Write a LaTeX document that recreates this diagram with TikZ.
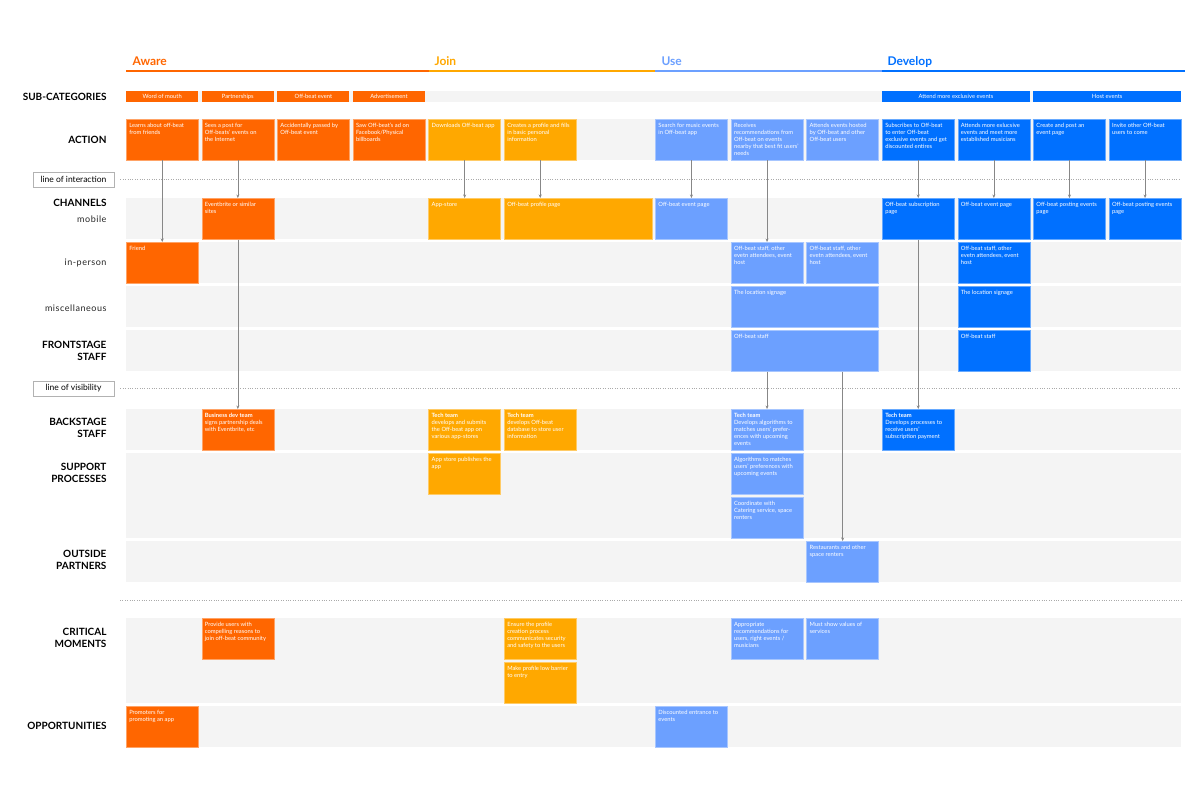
\documentclass[tikz,border=0pt]{standalone}
\usepackage{fontspec}
\setmainfont{Lato}
\usetikzlibrary{arrows.meta,calc}
\definecolor{aware}{RGB}{255,102,0}
\definecolor{joinc}{RGB}{255,168,0}
\definecolor{usec}{RGB}{108,160,255}
\definecolor{devc}{RGB}{0,112,255}
\definecolor{bandc}{RGB}{244,244,244}
\definecolor{arrc}{RGB}{135,135,135}
\definecolor{dotc}{RGB}{170,170,170}
\newcommand\cardfont{\fontsize{5.8}{7}\selectfont}
\newcommand\ctext[1]{\begin{tabular}[t]{@{}l@{}}#1\end{tabular}}
\newcommand\mkcard[7]{%
  \node[card,fill=#6,draw=#6!60!white,anchor=north west] (#1) at ({126+(#2-1)*75.6},#3)
    {\parbox[c][#5pt][t]{\dimexpr75.6pt*#4-9.6pt\relax}{\cardfont\vspace*{3.2pt}\ctext{#7}}};}
\newcommand\mksub[5]{%
  \node[subc,fill=#4,anchor=north west,minimum width={75.6*#3-3.6}] (#1) at ({126+(#2-1)*75.6},91) {#5};}
\tikzset{
  card/.style={rectangle,inner xsep=3pt,inner ysep=0pt,line width=0.5pt,text=white},
  subc/.style={rectangle,inner sep=0pt,minimum height=11pt,font=\cardfont,text=white},
  lbl/.style={anchor=east,align=right,font=\bfseries\fontsize{10}{12}\selectfont,text=black},
  sublbl/.style={anchor=east,font=\fontsize{9}{11}\selectfont\addfontfeature{LetterSpace=6},text=black!85},
  phase/.style={anchor=base west,font=\bfseries\fontsize{12}{14}\selectfont},
  linebox/.style={rectangle,draw=black!30,line width=0.8pt,fill=white,minimum width=81pt,minimum height=15pt,inner sep=0pt,font=\fontsize{8.5}{10}\selectfont},
  dotline/.style={dotc,line width=0.8pt,dash pattern=on 0.8pt off 1.6pt},
  flow/.style={arrc,line width=0.7pt,-{Stealth[length=3.5pt,width=3pt]}},
}
\begin{document}
\begin{tikzpicture}[x=1pt,y=-1pt]
\useasboundingbox (0,0) rectangle (1200,797);
\fill[white] (0,0) rectangle (1200,797);
% bands
\foreach \ya/\yb in {91/102,119/160,198/239,242/283,286/327,330/371,409/450,453/538,541/582,618/703,706/747}
  \fill[bandc] (126,\ya) rectangle (1181,\yb);
% phases
\draw[aware,line width=2.5pt] (126,71) -- (429,71);
\draw[joinc,line width=2.5pt] (429,71) -- (655.2,71);
\draw[usec,line width=2.5pt] (655.2,71) -- (882,71);
\draw[devc,line width=2.5pt] (882,71) -- (1185,71);
\node[phase,text=aware] (phAware) at (129,66) {Aware};
\node[phase,text=joinc] (phJoin) at (431,66) {Join};
\node[phase,text=usec] (phUse) at (658,66) {Use};
\node[phase,text=devc] (phDev) at (884,66) {Develop};
% row labels
\node[lbl] (lSub) at (110,96.5) {SUB-CATEGORIES};
\node[lbl] (lAct) at (110,140) {ACTION};
\node[lbl] (lCh) at (110,203) {CHANNELS};
\node[sublbl] (lMob) at (110,219) {mobile};
\node[sublbl] (lIn) at (110,263) {in-person};
\node[sublbl] (lMisc) at (110,308) {miscellaneous};
\node[lbl] (lFront) at (110,351) {FRONTSTAGE\\STAFF};
\node[lbl] (lBack) at (110,428) {BACKSTAGE\\STAFF};
\node[lbl] (lSupp) at (110,473) {SUPPORT\\PROCESSES};
\node[lbl] (lOut) at (110,560) {OUTSIDE\\PARTNERS};
\node[lbl] (lCrit) at (110,638) {CRITICAL\\MOMENTS};
\node[lbl] (lOpp) at (110,726) {OPPORTUNITIES};
% lines
\node[linebox] (loi) at (73.5,179.5) {line of interaction};
\node[linebox] (lov) at (73.5,388.5) {line of visibility};
\coordinate (loiEnd) at (1181,179.5);
\coordinate (lovEnd) at (1181,388.5);
\coordinate (sepA) at (120,600);
\coordinate (sepB) at (1181,600);
\draw[dotline] ([xshift=6pt]loi.east) -- (loiEnd);
\draw[dotline] ([xshift=6pt]lov.east) -- (lovEnd);
\draw[dotline] (sepA) -- (sepB);
% sub-categories
\mksub{s1}{1}{1}{aware}{Word of mouth}
\mksub{s2}{2}{1}{aware}{Partnerships}
\mksub{s3}{3}{1}{aware}{Off-beat event}
\mksub{s4}{4}{1}{aware}{Advertisement}
\mksub{s11}{11}{2}{devc}{Attend more exclusive events}
\mksub{s13}{13}{2}{devc}{Host events}
% action
\mkcard{a1}{1}{119}{1}{41}{aware}{Learns about off-beat\\from friends}
\mkcard{a2}{2}{119}{1}{41}{aware}{Sees a post for\\Off-beats' events on\\the Internet}
\mkcard{a3}{3}{119}{1}{41}{aware}{Accidentally passed by\\Off-beat event}
\mkcard{a4}{4}{119}{1}{41}{aware}{Saw Off-beat's ad on\\Facebook/Physical\\billboards}
\mkcard{a5}{5}{119}{1}{41}{joinc}{Downloads Off-beat app}
\mkcard{a6}{6}{119}{1}{41}{joinc}{Creates a profile and fills\\in basic personal\\information}
\mkcard{a8}{8}{119}{1}{41}{usec}{Search for music events\\in Off-beat app}
\mkcard{a9}{9}{119}{1}{41}{usec}{Receives\\recommendations from\\Off-beat on events\\nearby that best fit users'\\needs}
\mkcard{a10}{10}{119}{1}{41}{usec}{Attends events hosted\\by Off-beat and other\\Off-beat users}
\mkcard{a11}{11}{119}{1}{41}{devc}{Subscribes to Off-beat\\to enter Off-beat\\exclusive events and get\\discounted entires}
\mkcard{a12}{12}{119}{1}{41}{devc}{Attends more exlucsive\\events and meet more\\established musicians}
\mkcard{a13}{13}{119}{1}{41}{devc}{Create and post an\\event page}
\mkcard{a14}{14}{119}{1}{41}{devc}{Invite other Off-beat\\users to come}
% channels mobile
\mkcard{eb}{2}{198}{1}{41}{aware}{Eventbrite or similar\\sites}
\mkcard{apps}{5}{198}{1}{41}{joinc}{App-store}
\mkcard{prof}{6}{198}{2}{41}{joinc}{Off-beat profile page}
\mkcard{ep8}{8}{198}{1}{41}{usec}{Off-beat event page}
\mkcard{sub11}{11}{198}{1}{41}{devc}{Off-beat subscription\\page}
\mkcard{ep12}{12}{198}{1}{41}{devc}{Off-beat event page}
\mkcard{post13}{13}{198}{1}{41}{devc}{Off-beat posting events\\page}
\mkcard{post14}{14}{198}{1}{41}{devc}{Off-beat posting events\\page}
% in-person
\mkcard{friend}{1}{242}{1}{41}{aware}{Friend}
\mkcard{ip9}{9}{242}{1}{41}{usec}{Off-beat staff, other\\evetn attendees, event\\host}
\mkcard{ip10}{10}{242}{1}{41}{usec}{Off-beat staff, other\\evetn attendees, event\\host}
\mkcard{ip12}{12}{242}{1}{41}{devc}{Off-beat staff, other\\evetn attendees, event\\host}
% misc
\mkcard{sig9}{9}{286}{2}{41}{usec}{The location signage}
\mkcard{sig12}{12}{286}{1}{41}{devc}{The location signage}
% frontstage
\mkcard{fs9}{9}{330}{2}{41}{usec}{Off-beat staff}
\mkcard{fs12}{12}{330}{1}{41}{devc}{Off-beat staff}
% backstage
\mkcard{bdev}{2}{409}{1}{41}{aware}{\textbf{Business dev team}\\signs partnership deals\\with Eventbrite, etc}
\mkcard{tech5}{5}{409}{1}{41}{joinc}{\textbf{Tech team}\\develops and submits\\the Off-beat app on\\various app-stores}
\mkcard{tech6}{6}{409}{1}{41}{joinc}{\textbf{Tech team}\\develops Off-beat\\database to store user\\information}
\mkcard{tech9}{9}{409}{1}{41}{usec}{\textbf{Tech team}\\Develops algorithms to\\matches users' prefer-\\ences with upcoming\\events}
\mkcard{tech11}{11}{409}{1}{41}{devc}{\textbf{Tech team}\\Develops processes to\\receive users'\\subscription payment}
% support
\mkcard{sup5}{5}{453}{1}{41}{joinc}{App store publishes the\\app}
\mkcard{sup9a}{9}{453}{1}{41}{usec}{Algorithms to matches\\users' preferences with\\upcoming events}
\mkcard{sup9b}{9}{497}{1}{41}{usec}{Coordinate with\\Catering service, space\\renters}
% outside
\mkcard{rest}{10}{541}{1}{41}{usec}{Restaurants and other\\space renters}
% critical moments
\mkcard{cm2}{2}{618}{1}{41}{aware}{Provide users with\\compelling reasons to\\join off-beat community}
\mkcard{cm6a}{6}{618}{1}{41}{joinc}{Ensure the profile\\creation process\\communicates security\\and safety to the users}
\mkcard{cm6b}{6}{662}{1}{41}{joinc}{Make profile low barrier\\to entry}
\mkcard{cm9}{9}{618}{1}{41}{usec}{Appropriate\\recommendations for\\users, right events /\\musicians}
\mkcard{cm10}{10}{618}{1}{41}{usec}{Must show values of\\services}
% opportunities
\mkcard{op1}{1}{706}{1}{41}{aware}{Promoters for\\promoting an app}
\mkcard{op8}{8}{706}{1}{41}{usec}{Discounted entrance to\\events}
% connectors
\draw[flow] (a1.south) -- (friend.north);
\draw[flow] (a2.south) -- (eb.north);
\draw[flow] (eb.south) -- (bdev.north);
\draw[flow] (a5.south) -- (apps.north);
\draw[flow] (a6.south) -- (a6.south |- prof.north);
\draw[flow] (a8.south) -- (ep8.north);
\draw[flow] (a9.south) -- (ip9.north);
\draw[flow] (tech9.north |- fs9.south) -- (tech9.north);
\draw[flow] (rest.north |- fs9.south) -- (rest.north);
\draw[flow] (a11.south) -- (sub11.north);
\draw[flow] (sub11.south) -- (tech11.north);
\draw[flow] (a12.south) -- (ep12.north);
\draw[flow] (a13.south) -- (post13.north);
\draw[flow] (a14.south) -- (post14.north);
\end{tikzpicture}
\end{document}
